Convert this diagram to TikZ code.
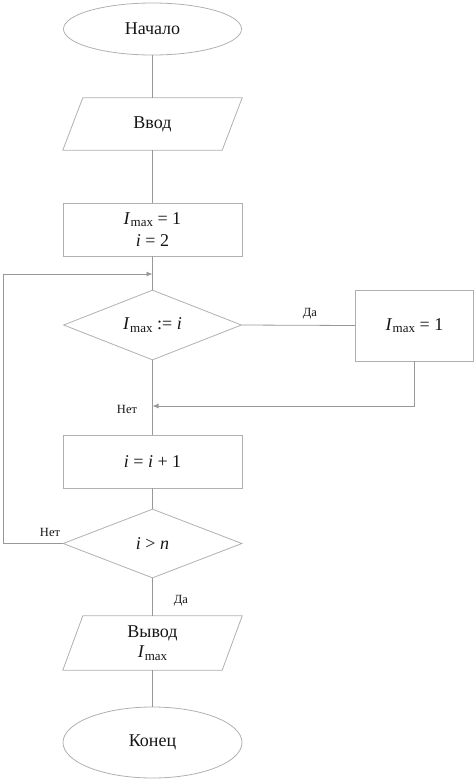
\documentclass[tikz,border=0pt]{standalone}
\usepackage{fontspec}
\setmainfont{Liberation Serif}
\usetikzlibrary{shapes.geometric,arrows.meta}
\definecolor{shapegray}{HTML}{B0B0B0}
\definecolor{linegray}{HTML}{989898}
\definecolor{txt}{HTML}{151515}
\newcommand{\Imax}{\textit{I}\kern0.3pt\raisebox{-0.3ex}{\fontsize{13}{14}\selectfont max}}
\begin{document}
\begin{tikzpicture}[x=1pt,y=-1pt,
  base/.style={draw=shapegray,line width=0.8pt,text=txt,font=\fontsize{18}{22}\selectfont,inner sep=0pt},
  term/.style={base,ellipse,minimum width=178pt,minimum height=52pt},
  proc/.style={base,rectangle,minimum width=179pt,minimum height=53pt,align=center},
  dec/.style={base,diamond,aspect=2.55,minimum width=178pt,minimum height=70pt},
  io/.style={text=txt,font=\fontsize{18}{22}\selectfont,minimum width=159pt,inner sep=0pt,align=center},
  io shape/.style={draw=shapegray,line width=0.8pt},
  conn/.style={draw=linegray,line width=0.8pt},
  arr/.style={conn,-{Latex[length=6pt,width=5pt]}},
  lbl/.style={text=txt,font=\fontsize{12.5}{14}\selectfont,inner sep=0pt}
]
\useasboundingbox (0,0) rectangle (474,780);

\node[term] (start) at (152.5,29) {Начало};

\node[io,minimum height=52pt] (vvod) at (152.5,124) {Ввод};
\draw[io shape] ([xshift=10pt]vvod.north west) -- ([xshift=10pt]vvod.north east)
  -- ([xshift=-10pt]vvod.south east) -- ([xshift=-10pt]vvod.south west) -- cycle;

\node[proc] (init) at (152.5,229.5) {\Imax{} = 1\\[0pt]\textit{i} = 2};

\node[dec] (dec1) at (152.5,325) {\Imax{} := \textit{i}};

\node[proc,minimum width=118pt,minimum height=71pt] (rbox) at (414.5,325.5) {\Imax{} = 1};

\node[proc] (inc) at (152.5,461.5) {\textit{i} = \textit{i} + 1};

\node[dec,minimum width=179pt,minimum height=69pt] (dec2) at (152.5,543.5) {\textit{i} > \textit{n}};

\node[io,minimum height=54pt] (vyvod) at (152.5,643) {Вывод\\[-2pt]\Imax};
\draw[io shape] ([xshift=10pt]vyvod.north west) -- ([xshift=10pt]vyvod.north east)
  -- ([xshift=-10pt]vyvod.south east) -- ([xshift=-10pt]vyvod.south west) -- cycle;

\node[term,minimum width=179pt,minimum height=71pt] (stop) at (152.5,742.5) {Конец};

\coordinate (loopin) at (152.5,274);
\coordinate (merge) at (152.5,406);
\coordinate (leftbot) at (3,543.5);
\coordinate (lefttop) at (3,274);

\draw[conn] (start) -- (vvod);
\draw[conn] (vvod) -- (init);
\draw[conn] (init) -- (dec1);
\draw[conn] (dec1.east) -- (rbox.west);
\draw[conn] (dec1) -- (inc);
\draw[arr] (rbox.south) |- (merge);
\draw[conn] (inc) -- (dec2);
\draw[conn] (dec2.west) -- (leftbot) -- (lefttop);
\draw[arr] (lefttop) -- (loopin);
\draw[conn] (dec2) -- (vyvod);
\draw[conn] (vyvod) -- (stop);

\node[lbl] (l1) at (310,314) {Да};
\node[lbl] (l2) at (127,409) {Нет};
\node[lbl] (l3) at (50,532) {Нет};
\node[lbl] (l4) at (181,601) {Да};
\end{tikzpicture}
\end{document}
